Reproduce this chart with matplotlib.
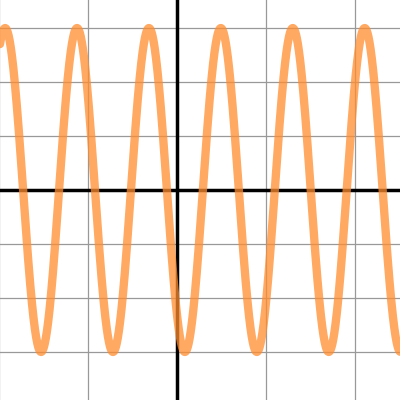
import numpy as np
import matplotlib
matplotlib.use("Agg")
import matplotlib.pyplot as plt

amplitude = 3.0
period = 0.809
trough_x = 0.09
x_grid = [-2, -1, 0, 1, 2]
y_grid = [-3, -2, -1, 0, 1, 2, 3]

fig = plt.figure(figsize=(4, 4), dpi=100)
ax = fig.add_axes([0, 0, 1, 1])
ax.set_xlim(-1.99, 2.51)
ax.set_ylim(-3.89, 3.52)
for g in x_grid:
    ax.axvline(g, color="#999999", lw=0.9, zorder=1)
for g in y_grid:
    ax.axhline(g, color="#999999", lw=0.9, zorder=1)
ax.axvline(0, color="black", lw=2.5, zorder=2)
ax.axhline(0, color="black", lw=2.5, zorder=2)
x = np.linspace(-2.1, 2.6, 3000)
y = -amplitude * np.cos(2 * np.pi * (x - trough_x) / period)
ax.plot(x, y, color="#ff8c2e", alpha=0.75, lw=6, solid_capstyle="round", zorder=3)
ax.set_xticks([]); ax.set_yticks([])
for s in ax.spines.values():
    s.set_visible(False)
fig.savefig("out.png", dpi=100)
